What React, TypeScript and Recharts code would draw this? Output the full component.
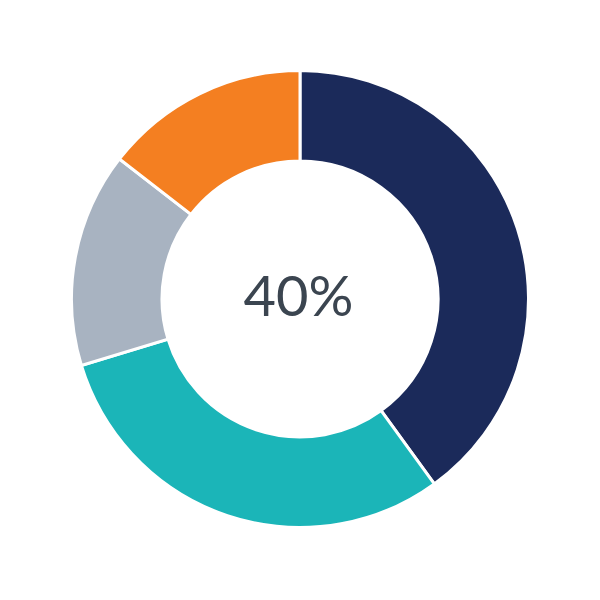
import React from "react";
import { PieChart, Pie, Cell } from "recharts";

const categories = ["A", "B", "C", "D"];
const values = [40, 30.3, 15.2, 14.5];
const colors = ["#1b2a5a", "#1bb5b8", "#a8b3c1", "#f47f21"];
const centerLabel = "40%";

const data = categories.map((name, i) => ({ name, value: values[i] }));

export default function App() {
  return (
    <div style={{ width: 584, height: 584, background: "#fff" }}>
      <PieChart width={584} height={584} margin={{ top: 0, right: 0, bottom: 0, left: 0 }}>
        <Pie
          data={data}
          dataKey="value"
          cx={292}
          cy={291}
          innerRadius={138}
          outerRadius={228.5}
          startAngle={90}
          endAngle={-270}
          stroke="#ffffff"
          strokeWidth={3}
          isAnimationActive={false}
        >
          {data.map((d, i) => (
            <Cell key={d.name} fill={colors[i]} />
          ))}
        </Pie>
        <text
          x={290.5}
          y={308}
          textAnchor="middle"
          fontFamily="Lato"
          fontSize={56}
          fontWeight={400}
          fill="#3b4550"
        >
          {centerLabel}
        </text>
      </PieChart>
    </div>
  );
}
